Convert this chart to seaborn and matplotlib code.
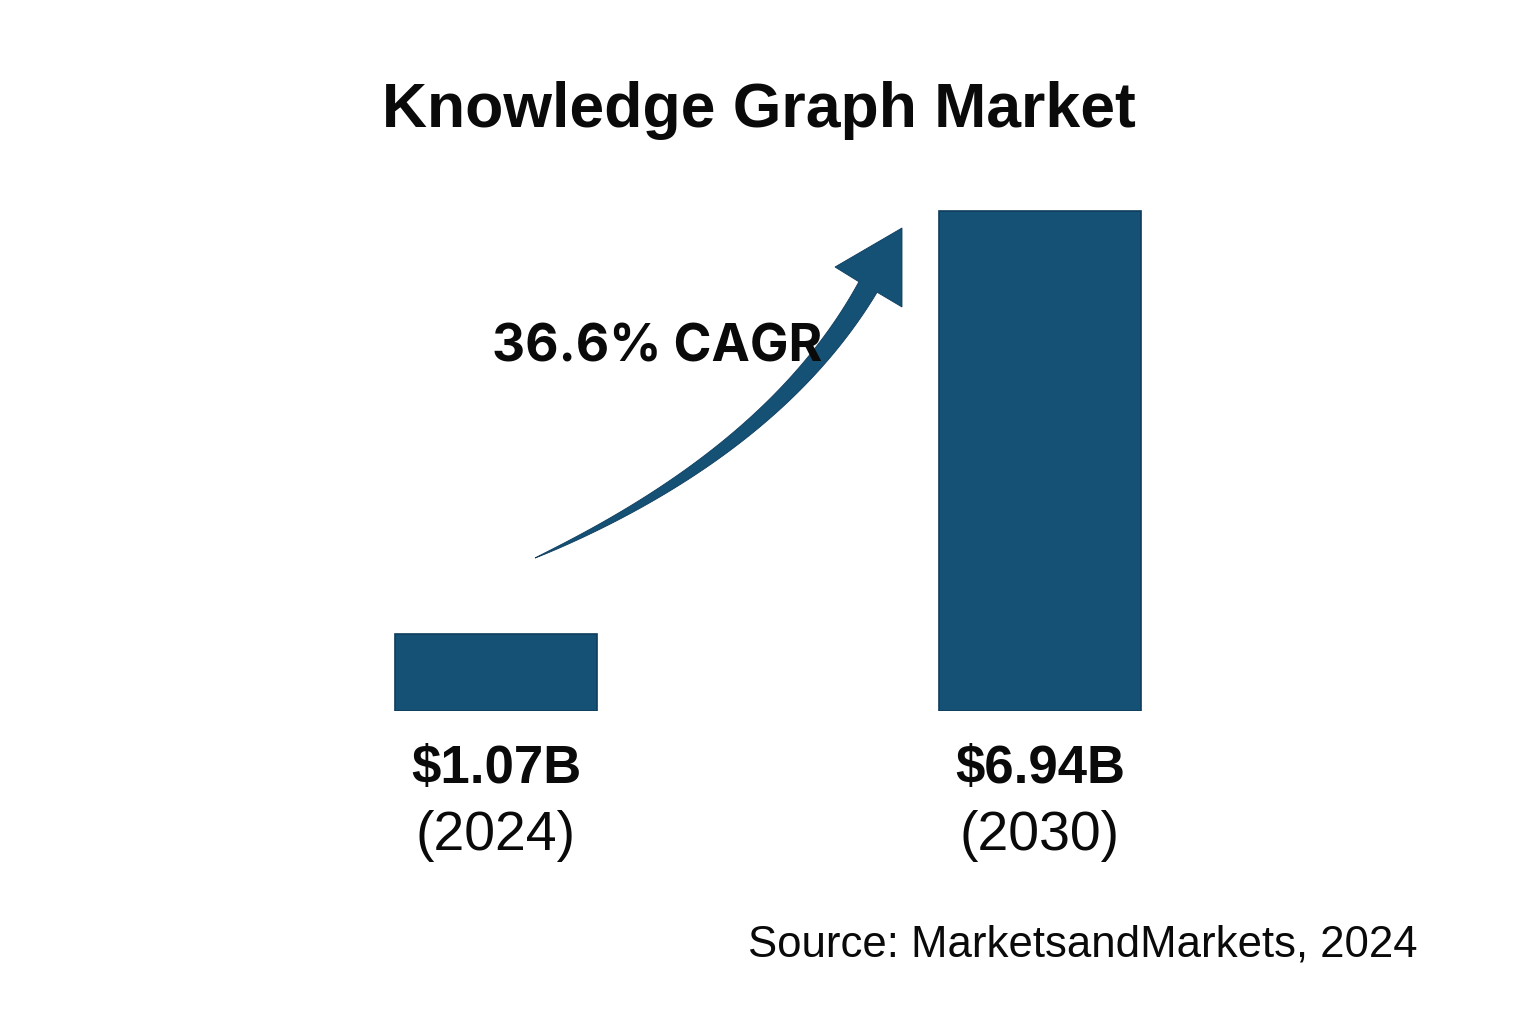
import matplotlib
matplotlib.use("Agg")
import matplotlib.pyplot as plt
from matplotlib.patches import Polygon
import numpy as np
import seaborn as sns
import pandas as pd

# Chart data
years = ["2024", "2030"]
market_size = [1.07, 6.94]  # USD billions
value_labels = ["$1.07B", "$6.94B"]
cagr_label = "36.6% CAGR"
title = "Knowledge Graph Market"
source = "Source: MarketsandMarkets, 2024"

bar_color = "#155075"
edge_color = "#0e3d5e"
text_color = "#0a0a0a"

sns.set_theme(style="white")
plt.rcParams["font.family"] = ["Liberation Sans", "DejaVu Sans"]

df = pd.DataFrame({"year": years, "size": market_size})

W, H = 1536, 1024
fig = plt.figure(figsize=(W / 100, H / 100), dpi=100)
ax = fig.add_axes([224 / W, 0.3057, 1088 / W, 540 / H])

sns.barplot(data=df, x="year", y="size", color=bar_color, width=0.371,
            saturation=1, edgecolor=edge_color, linewidth=1.2, ax=ax)
ax.set_xlim(-0.5, 1.5)
ax.set_ylim(0, 7.5)
ax.axis("off")

# value + year labels under each bar
for i, (val, yr) in enumerate(zip(value_labels, years)):
    ax.annotate(val, xy=(i, 0), xytext=(0, -52), textcoords="offset points",
                ha="center", va="baseline", fontsize=38, fontweight="bold", color=text_color)
    ax.annotate(f"({yr})", xy=(i, 0), xytext=(0, -100), textcoords="offset points",
                ha="center", va="baseline", fontsize=40, color=text_color)


# growth arrow: tapered curved shaft + triangular head (pixel coords, y down)
def to_fig(pts):
    pts = np.asarray(pts, dtype=float)
    return np.column_stack([pts[:, 0] / W, 1 - pts[:, 1] / H])


p0 = np.array([535, 558])
p1 = np.array([774, 451])
p2 = np.array([868, 287])
t = np.linspace(0, 1, 80)[:, None]
centre = (1 - t) ** 2 * p0 + 2 * (1 - t) * t * p1 + t ** 2 * p2
deriv = 2 * (1 - t) * (p1 - p0) + 2 * t * (p2 - p1)
normal = np.column_stack([deriv[:, 1], -deriv[:, 0]])
normal /= np.linalg.norm(normal, axis=1)[:, None]
half_w = 10.5 * t[:, 0] ** 0.75
left = centre + normal * half_w[:, None]
right = centre - normal * half_w[:, None]
head = np.array([[835, 267], [902, 228], [902, 307]])
# order the head corners to match the shaft sides
if np.linalg.norm(left[-1] - head[0]) < np.linalg.norm(right[-1] - head[0]):
    outline = np.vstack([left, head, right[::-1]])
else:
    outline = np.vstack([right, head, left[::-1]])
fig.patches.append(Polygon(to_fig(outline), closed=True, transform=fig.transFigure,
                           facecolor=bar_color, edgecolor=edge_color, linewidth=0.6, zorder=1))

fig.text(492 / W, 1 - 362 / H, cagr_label, ha="left", va="baseline",
         fontsize=37, fontweight="bold", family=["Inter", "DejaVu Sans"], color=text_color, zorder=5)

fig.text(0.494, 0.876, title, ha="center", va="baseline",
         fontsize=45, fontweight="bold", color=text_color)

fig.text(1417 / W, 1 - 957 / H, source, ha="right", va="baseline",
         fontsize=31.5, color=text_color)

fig.savefig("out.png", dpi=100, facecolor="white")
